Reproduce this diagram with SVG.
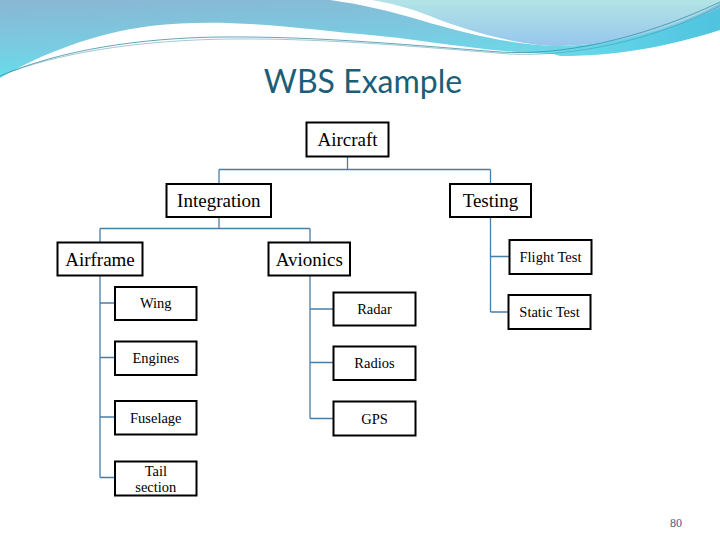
<svg xmlns="http://www.w3.org/2000/svg" width="720" height="540" viewBox="0 0 720 540">
<defs>
<linearGradient id="gLeft" x1="0" y1="0" x2="0.3" y2="1">
<stop offset="0" stop-color="#8AB6D3"/>
<stop offset="0.6" stop-color="#78CDE2"/>
<stop offset="1" stop-color="#5EE2EE"/>
</linearGradient>
<linearGradient id="gRight" x1="0" y1="0" x2="0" y2="1">
<stop offset="0" stop-color="#B2E4E6"/>
<stop offset="1" stop-color="#96C6EC"/>
</linearGradient>
<linearGradient id="gBand" x1="0" y1="0" x2="1" y2="0">
<stop offset="0" stop-color="#6EDDEB"/>
<stop offset="1" stop-color="#4FC3DF"/>
</linearGradient>
<style>
.box{fill:#ffffff;stroke:#000000;stroke-width:2}
.big{font-family:"Liberation Serif","DejaVu Serif",serif;font-size:19px;fill:#000000;text-anchor:middle}
.small{font-family:"Liberation Serif","DejaVu Serif",serif;font-size:14.5px;fill:#000000;text-anchor:middle}
.conn{fill:none;stroke:#4A7DA6;stroke-width:1.3}
.wave{fill:none;stroke:#3E8EA6;stroke-width:0.8}
</style>
</defs>
<rect width="720" height="540" fill="#ffffff"/>
<g id="header">
<path d="M0,0 H720 V20 C660,40 610,54 555,54 C480,52 430,40 360,34 C280,26 220,18 150,26 C90,34 40,55 0,78 Z" fill="url(#gLeft)"/>
<path d="M540,50 C610,48 670,30 720,8 V30 C670,46 620,56 560,56 Z" fill="url(#gBand)"/>
<path d="M330,0 H720 V2 C680,25 620,45 560,46 C520,46 470,35 420,20 C390,11 360,4 330,0 Z" fill="#ffffff"/>
<path d="M372,0 H720 V3 C680,26 620,45 560,46 C520,46 470,32 430,16 C410,8 390,3 372,0 Z" fill="url(#gRight)"/>
<path class="wave" d="M0,76 C60,50 140,38 220,37 C320,36 420,46 500,52 C560,56 640,40 720,2"/>
<path class="wave" d="M10,72 C70,50 150,40 230,39 C330,38 430,48 510,54 C570,57 650,42 720,6" stroke-opacity="0.6"/>
</g>
<text x="363" y="93" font-family="Lato, 'Noto Sans', sans-serif" font-size="32" fill="#1B5E78" text-anchor="middle">WBS Example</text>
<g id="connectors">
<path class="conn" d="M347.5,157 V169.5 M219,169.5 H490.5 M219,169.5 V184 M490.5,169.5 V184"/>
<path class="conn" d="M219,217 V228.5 M100,228.5 H310 M100,228.5 V242 M310,228.5 V242"/>
<path class="conn" d="M100,276 V477.5 M100,303 H115 M100,357.5 H115 M100,417 H115 M100,477.5 H115"/>
<path class="conn" d="M310,276 V418.5 M310,309 H333 M310,362.5 H333 M310,418.5 H333"/>
<path class="conn" d="M490.5,217 V312 M490.5,256.5 H509 M490.5,312 H508"/>
</g>
<g id="aircraft"><rect class="box" x="306.5" y="122.5" width="82" height="34"/><text class="big" x="347.5" y="146">Aircraft</text></g>
<g id="integration"><rect class="box" x="166.5" y="184" width="104.5" height="33"/><text class="big" x="218.8" y="206.5">Integration</text></g>
<g id="testing"><rect class="box" x="450" y="184" width="81" height="33"/><text class="big" x="490.5" y="206.5">Testing</text></g>
<g id="airframe"><rect class="box" x="57.5" y="242.5" width="85" height="33"/><text class="big" x="100" y="265.5">Airframe</text></g>
<g id="avionics"><rect class="box" x="268.5" y="242.5" width="81.5" height="33"/><text class="big" x="309.3" y="265.5">Avionics</text></g>
<g id="wing"><rect class="box" x="115" y="287" width="81.5" height="33"/><text class="small" x="155.8" y="308">Wing</text></g>
<g id="engines"><rect class="box" x="115" y="341.5" width="81.5" height="33.5"/><text class="small" x="155.8" y="363">Engines</text></g>
<g id="fuselage"><rect class="box" x="115" y="401" width="81.5" height="33.5"/><text class="small" x="155.8" y="423">Fuselage</text></g>
<g id="tail-section"><rect class="box" x="115" y="461.5" width="81.5" height="34"/><text class="small" x="155.8" y="476">Tail</text><text class="small" x="155.8" y="492">section</text></g>
<g id="radar"><rect class="box" x="333.5" y="292.5" width="82" height="33"/><text class="small" x="374.5" y="314">Radar</text></g>
<g id="radios"><rect class="box" x="333.5" y="346.5" width="82" height="33.5"/><text class="small" x="374.5" y="368">Radios</text></g>
<g id="gps"><rect class="box" x="333.5" y="401.5" width="82" height="34"/><text class="small" x="374.5" y="423.5">GPS</text></g>
<g id="flight-test"><rect class="box" x="509.5" y="240" width="82" height="34"/><text class="small" x="550.5" y="261.5">Flight Test</text></g>
<g id="static-test"><rect class="box" x="508.5" y="295" width="82" height="34"/><text class="small" x="549.5" y="317">Static Test</text></g>
<text x="676" y="527" font-family="'Liberation Serif','DejaVu Serif',serif" font-size="12" fill="#3B5F8A" text-anchor="middle">80</text>
</svg>
